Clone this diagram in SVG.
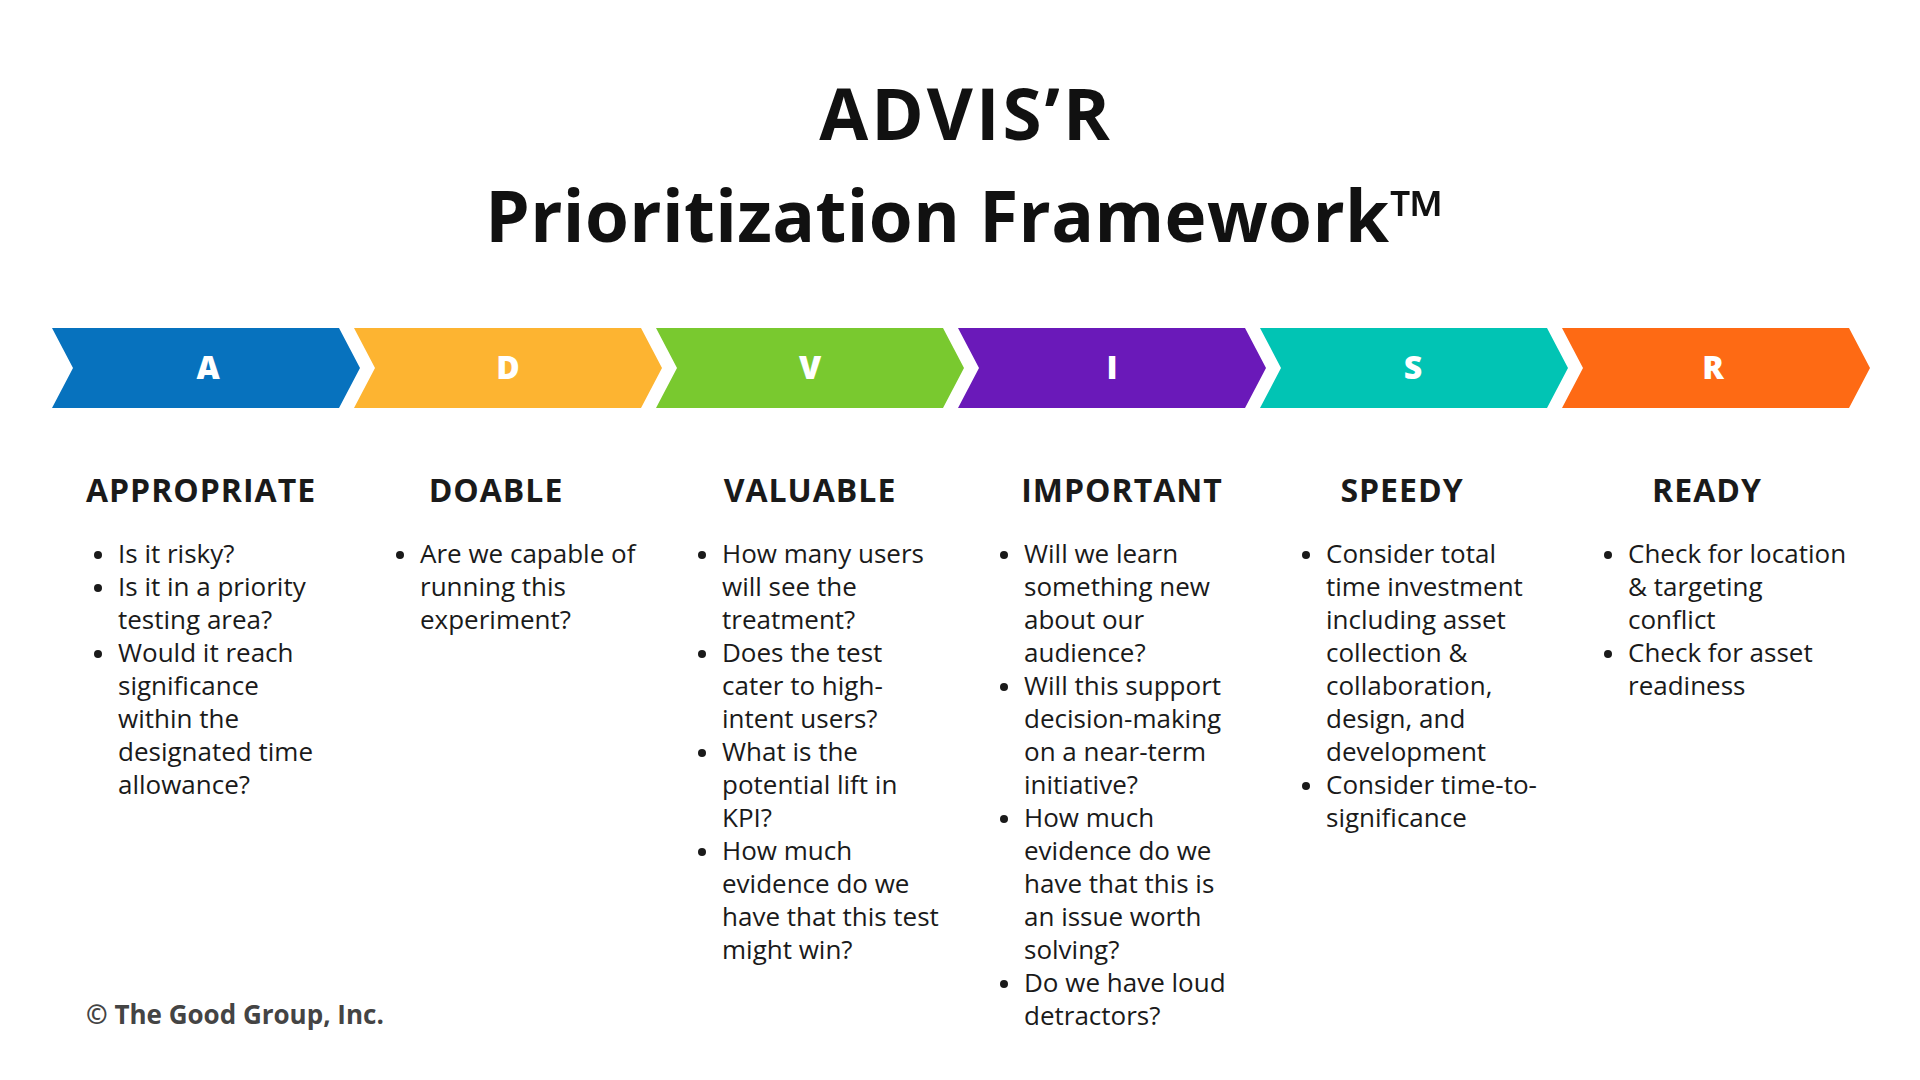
<svg xmlns="http://www.w3.org/2000/svg" xmlns:xlink="http://www.w3.org/1999/xlink" width="1920" height="1080" viewBox="0 0 1920 1080">
<defs>
<style>
.title{font-family:"Open Sans","Noto Sans",sans-serif;font-weight:700;font-size:71px;fill:#111;text-anchor:middle}
.letter{font-family:"Open Sans","DejaVu Sans",sans-serif;font-weight:800;font-size:32px;fill:#fff;text-anchor:middle}
.head{font-family:"Open Sans","Noto Sans",sans-serif;font-weight:700;font-size:32px;letter-spacing:1px;fill:#1a1a1a;text-anchor:middle}
.body{font-family:"Open Sans","Noto Sans",sans-serif;font-size:26px;fill:#1a1a1a}
.dot{fill:#1a1a1a}
.foot{font-family:"Open Sans","Noto Sans",sans-serif;font-weight:700;font-size:26px;fill:#444}
</style>
<path id="chev" d="M0,0 H287 L308,40 L287,80 H0 L21,40 Z"/>
</defs>
<rect width="1920" height="1080" fill="#fff"/>
<g id="title">
<text class="title" x="966" y="140" letter-spacing="3">ADVIS’R</text>
<text class="title" x="965" y="242" letter-spacing="0.4">Prioritization Framework™</text>
</g>
<g id="connectors"/>
<g id="node-A">
<use xlink:href="#chev" x="52" y="328" fill="#0772BE"/>
<text class="letter" x="208" y="379">A</text>
<text class="head" x="201" y="502">APPROPRIATE</text>
<circle class="dot" cx="98" cy="555" r="4"/>
<circle class="dot" cx="98" cy="588" r="4"/>
<circle class="dot" cx="98" cy="654" r="4"/>
<text class="body" x="118"><tspan x="118" y="563">Is it risky?</tspan><tspan x="118" y="596">Is it in a priority</tspan><tspan x="118" y="629">testing area?</tspan><tspan x="118" y="662">Would it reach</tspan><tspan x="118" y="695">significance</tspan><tspan x="118" y="728">within the</tspan><tspan x="118" y="761">designated time</tspan><tspan x="118" y="794">allowance?</tspan></text>
</g>
<g id="node-D">
<use xlink:href="#chev" x="354" y="328" fill="#FDB431"/>
<text class="letter" x="508" y="379">D</text>
<text class="head" x="496" y="502">DOABLE</text>
<circle class="dot" cx="400" cy="555" r="4"/>
<text class="body"><tspan x="420" y="563">Are we capable of</tspan><tspan x="420" y="596">running this</tspan><tspan x="420" y="629">experiment?</tspan></text>
</g>
<g id="node-V">
<use xlink:href="#chev" x="656" y="328" fill="#79C92F"/>
<text class="letter" x="810" y="379">V</text>
<text class="head" x="810" y="502">VALUABLE</text>
<circle class="dot" cx="702" cy="555" r="4"/>
<circle class="dot" cx="702" cy="654" r="4"/>
<circle class="dot" cx="702" cy="753" r="4"/>
<circle class="dot" cx="702" cy="852" r="4"/>
<text class="body"><tspan x="722" y="563">How many users</tspan><tspan x="722" y="596">will see the</tspan><tspan x="722" y="629">treatment?</tspan><tspan x="722" y="662">Does the test</tspan><tspan x="722" y="695">cater to high-</tspan><tspan x="722" y="728">intent users?</tspan><tspan x="722" y="761">What is the</tspan><tspan x="722" y="794">potential lift in</tspan><tspan x="722" y="827">KPI?</tspan><tspan x="722" y="860">How much</tspan><tspan x="722" y="893">evidence do we</tspan><tspan x="722" y="926">have that this test</tspan><tspan x="722" y="959">might win?</tspan></text>
</g>
<g id="node-I">
<use xlink:href="#chev" x="958" y="328" fill="#6A19B9"/>
<text class="letter" x="1112" y="379">I</text>
<text class="head" x="1122" y="502">IMPORTANT</text>
<circle class="dot" cx="1004" cy="555" r="4"/>
<circle class="dot" cx="1004" cy="687" r="4"/>
<circle class="dot" cx="1004" cy="819" r="4"/>
<circle class="dot" cx="1004" cy="984" r="4"/>
<text class="body"><tspan x="1024" y="563">Will we learn</tspan><tspan x="1024" y="596">something new</tspan><tspan x="1024" y="629">about our</tspan><tspan x="1024" y="662">audience?</tspan><tspan x="1024" y="695">Will this support</tspan><tspan x="1024" y="728">decision-making</tspan><tspan x="1024" y="761">on a near-term</tspan><tspan x="1024" y="794">initiative?</tspan><tspan x="1024" y="827">How much</tspan><tspan x="1024" y="860">evidence do we</tspan><tspan x="1024" y="893">have that this is</tspan><tspan x="1024" y="926">an issue worth</tspan><tspan x="1024" y="959">solving?</tspan><tspan x="1024" y="992">Do we have loud</tspan><tspan x="1024" y="1025">detractors?</tspan></text>
</g>
<g id="node-S">
<use xlink:href="#chev" x="1260" y="328" fill="#01C4B4"/>
<text class="letter" x="1413" y="379">S</text>
<text class="head" x="1402" y="502">SPEEDY</text>
<circle class="dot" cx="1306" cy="555" r="4"/>
<circle class="dot" cx="1306" cy="786" r="4"/>
<text class="body"><tspan x="1326" y="563">Consider total</tspan><tspan x="1326" y="596">time investment</tspan><tspan x="1326" y="629">including asset</tspan><tspan x="1326" y="662">collection &amp;</tspan><tspan x="1326" y="695">collaboration,</tspan><tspan x="1326" y="728">design, and</tspan><tspan x="1326" y="761">development</tspan><tspan x="1326" y="794">Consider time-to-</tspan><tspan x="1326" y="827">significance</tspan></text>
</g>
<g id="node-R">
<use xlink:href="#chev" x="1562" y="328" fill="#FE6A14"/>
<text class="letter" x="1713" y="379">R</text>
<text class="head" x="1707" y="502">READY</text>
<circle class="dot" cx="1608" cy="555" r="4"/>
<circle class="dot" cx="1608" cy="654" r="4"/>
<text class="body"><tspan x="1628" y="563">Check for location</tspan><tspan x="1628" y="596">&amp; targeting</tspan><tspan x="1628" y="629">conflict</tspan><tspan x="1628" y="662">Check for asset</tspan><tspan x="1628" y="695">readiness</tspan></text>
</g>
<g id="footer">
<text class="foot" x="86" y="1024">© The Good Group, Inc.</text>
</g>
</svg>
